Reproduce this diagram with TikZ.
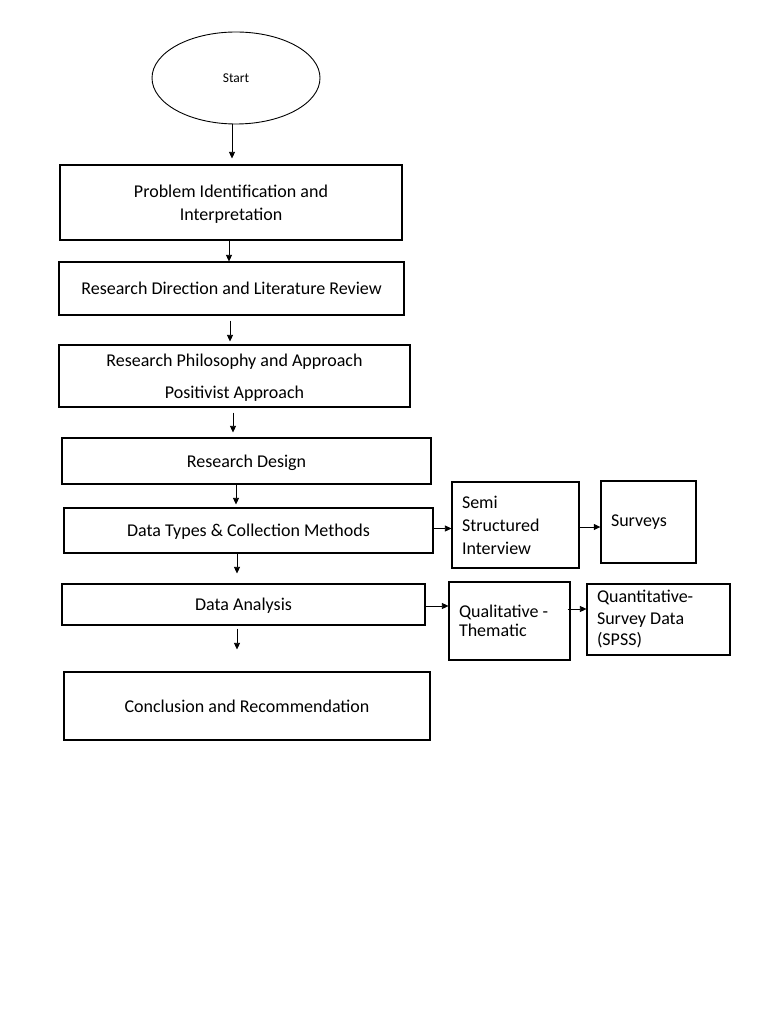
\documentclass[tikz,border=0pt]{standalone}
\usepackage{fontspec}
\setmainfont{Carlito}
\usepackage{tikz}
\usetikzlibrary{
  shapes.geometric,
  arrows.meta}

\newcommand\flowfont{\fontsize{18}{23}\selectfont}

\tikzset{
  stepbox/.style={draw,line width=1.1pt,inner sep=0pt,align=center,text depth=0pt,font=\flowfont},
  sidebox/.style={draw,line width=1.1pt,inner xsep=10pt,inner ysep=0pt,align=flush left,font=\flowfont},
  flow/.style={line width=0.7pt,-{Triangle[length=6.5pt,width=6pt]}}
}

\begin{document}
\begin{tikzpicture}[x=1pt,y=-1pt]
\useasboundingbox[fill=white] (0,0) rectangle (768,1024);

\node[draw,ellipse,line width=0.9pt,minimum width=168,minimum height=92,font=\fontsize{13.5}{16}\selectfont] (start) at (236,78) {Start};

\node[stepbox,minimum width=342,minimum height=75] (pii) at (231,202.5) {Problem Identification and\\Interpretation};
\node[stepbox,minimum width=345,minimum height=53] (rdlr) at (231.5,288.5) {Research Direction and Literature Review};
\node[stepbox,minimum width=351,minimum height=62] (phil) at (234.5,376) {Research Philosophy and Approach\\[9pt]Positivist Approach};
\node[stepbox,minimum width=369,minimum height=46] (design) at (246.5,461) {Research Design};
\node[stepbox,minimum width=369,minimum height=45] (dtcm) at (248.5,530.5) {Data Types \& Collection Methods};
\node[stepbox,minimum width=363,minimum height=41] (analysis) at (243.5,604.5) {Data Analysis};
\node[stepbox,minimum width=366,minimum height=68] (concl) at (247,706) {Conclusion and Recommendation};

\node[sidebox,text width=107,minimum height=86] (semi) at (515.5,525) {Semi\\Structured\\Interview};
\node[sidebox,text width=75,minimum height=82,line width=1.4pt] (surveys) at (648.5,522) {Surveys};
\node[sidebox,text width=101,minimum height=78,font=\fontsize{18}{19}\selectfont] (qual) at (509.5,621) {Qualitative -\\Thematic};
\node[sidebox,text width=123,minimum height=71,font=\fontsize{18}{21.5}\selectfont] (quant) at (658.5,619.5) {Quantitative-\\Survey Data\\(SPSS)};

\draw[flow,shorten >=6pt] ([xshift=-4pt]start.south) -- ([xshift=-4pt]start.south |- pii.north);
\draw[flow] ([xshift=-2pt]pii.south) -- ([xshift=-2pt]pii.south |- rdlr.north);
\draw[flow,shorten <=5pt,shorten >=3pt] ([xshift=-1.5pt]rdlr.south) -- ([xshift=-1.5pt]rdlr.south |- phil.north);
\draw[flow,shorten <=5pt,shorten >=5pt] ([xshift=-1.5pt]phil.south) -- ([xshift=-1.5pt]phil.south |- design.north);
\draw[flow,shorten >=3pt] ([xshift=-10.5pt]design.south) -- ([xshift=-10.5pt]design.south |- dtcm.north);
\draw[flow,shorten >=10pt] ([xshift=-11.5pt]dtcm.south) -- ([xshift=-11.5pt]dtcm.south |- analysis.north);
\draw[flow,shorten <=3pt,shorten >=22pt] ([xshift=-6.5pt]analysis.south) -- ([xshift=-6.5pt]analysis.south |- concl.north);

\draw[flow] ([yshift=2pt]dtcm.east) -- ([yshift=2pt]dtcm.east -| semi.west);
\draw[flow] ([yshift=-2pt]semi.east) -- ([yshift=-2pt]semi.east -| surveys.west);
\draw[flow] ([yshift=-1.5pt]analysis.east) -- ([yshift=-1.5pt]analysis.east -| qual.west);
\draw[flow,shorten <=-3pt] ([yshift=12pt]qual.east) -- ([yshift=12pt]qual.east -| quant.west);
\end{tikzpicture}
\end{document}
